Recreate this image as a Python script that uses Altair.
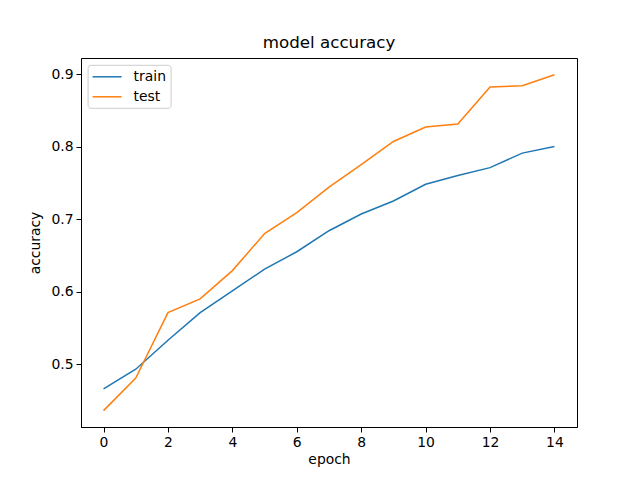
import altair as alt
import pandas as pd

epochs = list(range(15))
train = [0.466, 0.493, 0.533, 0.571, 0.601, 0.631, 0.655, 0.684, 0.707, 0.725, 0.748, 0.760, 0.771, 0.791, 0.800]
test = [0.436, 0.481, 0.571, 0.590, 0.629, 0.680, 0.709, 0.744, 0.775, 0.807, 0.827, 0.831, 0.882, 0.884, 0.899]
series = ["train", "test"]
colors = ["#1f77b4", "#ff7f0e"]

rows = []
for e, a in zip(epochs, train):
    rows.append({"epoch": e, "accuracy": a, "series": "train"})
for e, a in zip(epochs, test):
    rows.append({"epoch": e, "accuracy": a, "series": "test"})
df = pd.DataFrame(rows)

font = "DejaVu Sans"

chart = alt.Chart(df).mark_line(strokeWidth=1.5, clip=True).encode(
    x=alt.X("epoch:Q",
            scale=alt.Scale(domain=[-0.7, 14.7], nice=False, zero=False),
            axis=alt.Axis(values=[0, 2, 4, 6, 8, 10, 12, 14], title="epoch", grid=False,
                          tickColor="black", domainColor="black", tickSize=5,
                          labelFontSize=13.9, titleFontSize=13.9, labelColor="black",
                          titleColor="black", titleFontWeight="normal", labelPadding=3,
                          titlePadding=4, labelFont=font, titleFont=font)),
    y=alt.Y("accuracy:Q",
            scale=alt.Scale(domain=[0.4134, 0.9221], nice=False, zero=False),
            axis=alt.Axis(values=[0.5, 0.6, 0.7, 0.8, 0.9], format=".1f", title="accuracy",
                          grid=False, tickColor="black", domainColor="black", tickSize=5,
                          labelFontSize=13.9, titleFontSize=13.9, labelColor="black",
                          titleColor="black", titleFontWeight="normal", labelPadding=3,
                          titlePadding=8, labelFont=font, titleFont=font)),
    color=alt.Color("series:N",
                    scale=alt.Scale(domain=series, range=colors),
                    sort=series,
                    legend=alt.Legend(title=None, orient="none", legendX=6.6, legendY=6.8,
                                      symbolType="M-1,0H3.14", symbolStrokeWidth=1.5,
                                      symbolSize=196, labelFontSize=13.9, labelFont=font,
                                      labelColor="black", padding=4, rowPadding=5,
                                      strokeColor="#cccccc", fillColor="white",
                                      cornerRadius=3, labelOffset=26)),
).properties(
    width=496, height=369,
    title=alt.TitleParams("model accuracy", fontSize=16.7, font=font, fontWeight="normal",
                          color="black", offset=6),
    padding={"left": 73, "top": 50, "right": 50, "bottom": 50},
    autosize="none",
).configure_view(stroke="black", strokeWidth=1)

chart.save("out.html", embed_options={"renderer": "svg", "actions": False})
